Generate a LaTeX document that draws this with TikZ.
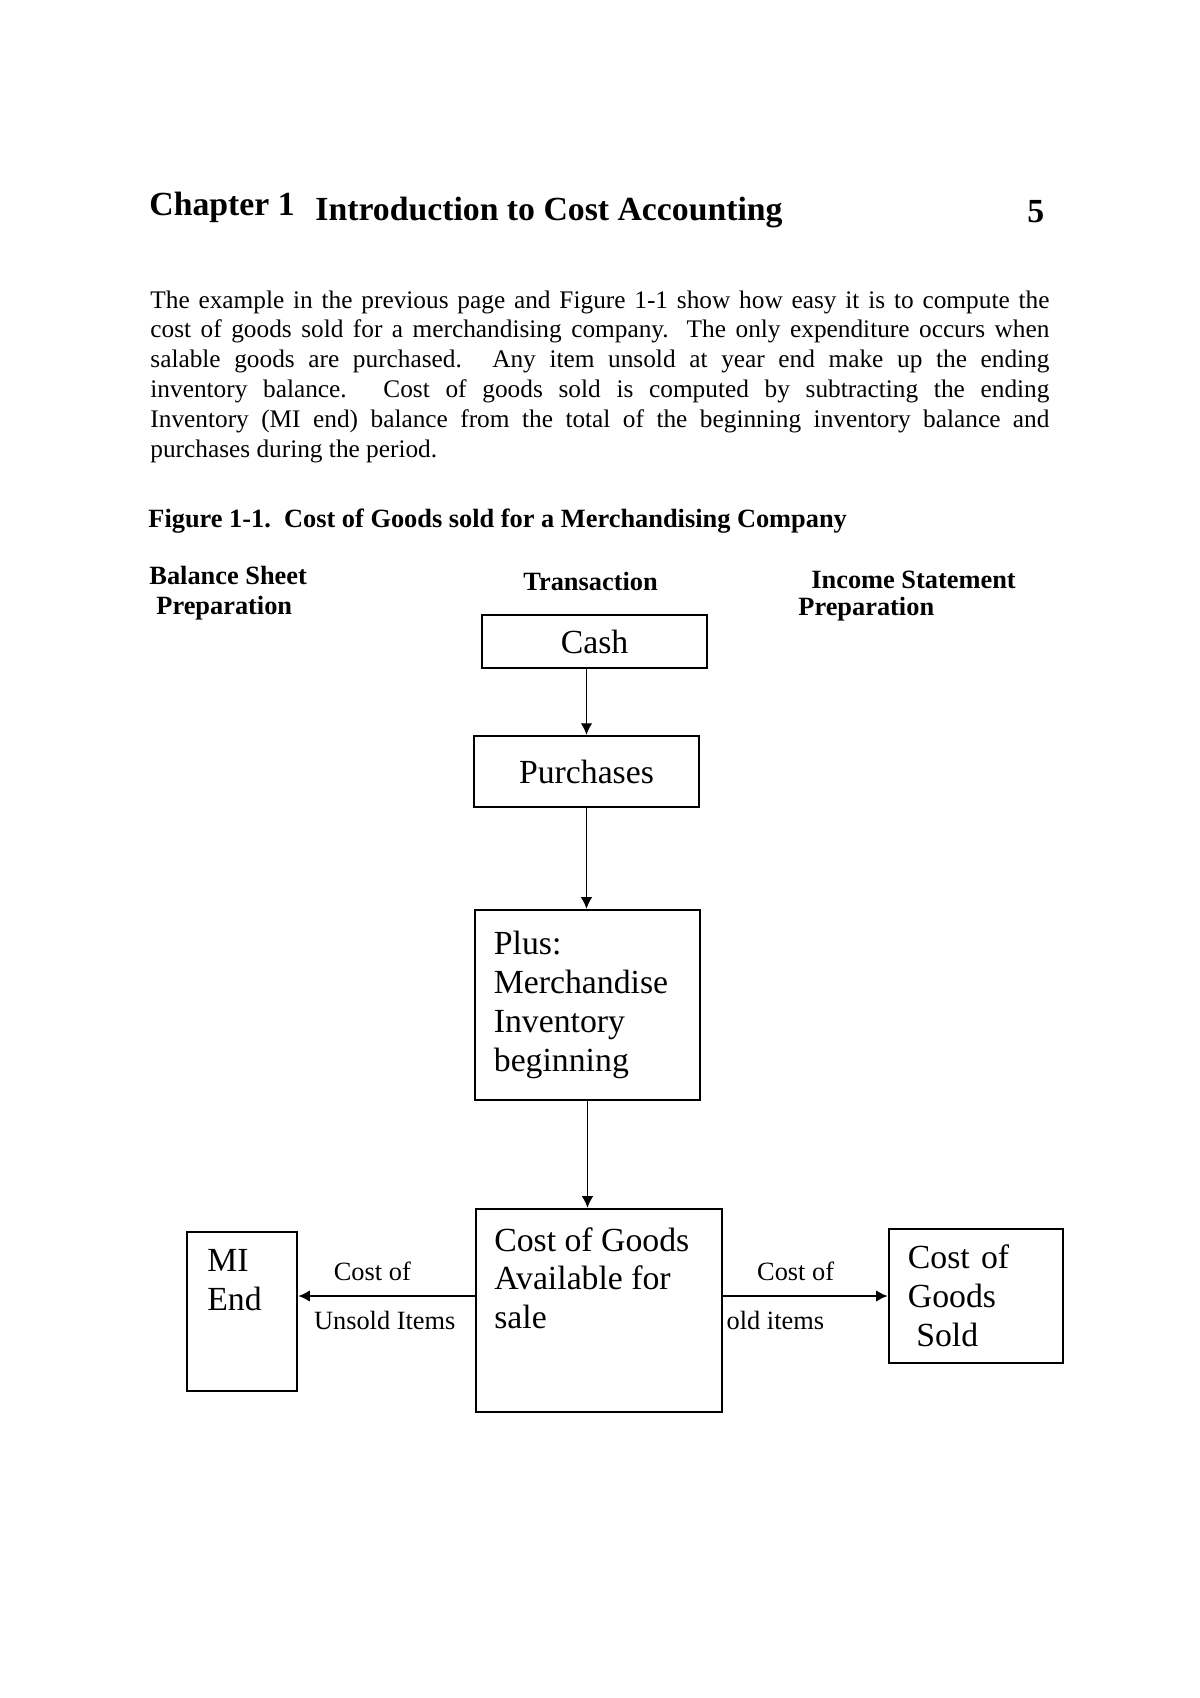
\documentclass[tikz,border=0pt]{standalone}
\usepackage{fontspec}
\setmainfont{Liberation Serif}
\usetikzlibrary{arrows.meta}

\begin{document}
\begin{tikzpicture}[x=0.0166667cm, y=-0.0166667cm,
    box/.style={draw, line width=1.1pt, inner sep=0pt, font=\fontsize{16}{18.4}\selectfont},
    boxtext/.style={inner sep=0pt, align=left, font=\fontsize{16}{18.4}\selectfont},
    flow/.style={line width=.7pt, -{Latex[length=5.5pt,width=5.5pt]}},
    edgetext/.style={inner sep=1pt, font=\fontsize{12.5}{15}\selectfont},
    head/.style={inner sep=0pt, anchor=base west, font=\fontsize{12.5}{15}\selectfont\bfseries}]
    \useasboundingbox[fill=white] (0,0) rectangle (1200,1698);

    % page heading and text
    \node[head, font=\fontsize{16}{19}\selectfont\bfseries] (chap) at (149,215) {Chapter 1};
    \node[head, font=\fontsize{16}{19}\selectfont\bfseries] (title) at (315,220) {Introduction to Cost Accounting};
    \node[head, font=\fontsize{16}{19}\selectfont\bfseries] (pageno) at (1027,222) {5};
    \node[anchor=base west, inner sep=0pt, text width=14.98cm, align=justify,
        font=\fontsize{12}{14.17}\selectfont] (intro) at (150,308)
        {The example in the previous page and Figure 1-1 show how easy it is to compute the\linebreak
        cost of goods sold for a merchandising company.  The only expenditure occurs when\linebreak
        salable goods are purchased.  Any item unsold at year end make up the ending\linebreak
        inventory balance.  Cost of goods sold is computed by subtracting the ending\linebreak
        Inventory (MI end) balance from the total of the beginning inventory balance and\linebreak
        purchases during the period.};
    \node[head] (fig) at (148,527) {Figure 1-1.\ \ Cost of Goods sold for a Merchandising Company};

    \node[head] (bal) at (149,584) {Balance Sheet};
    \node[head] (balprep) at (156,614) {Preparation};
    \node[head] (trans) at (523,590) {Transaction};
    \node[head] (inc) at (811,588) {Income Statement};
    \node[head] (incprep) at (798,615) {Preparation};

    % boxes
    \node[box, minimum width=3.75cm, minimum height=0.883cm] (cash) at (594.5,641.5) {Cash};
    \node[box, minimum width=3.75cm, minimum height=1.183cm] (purch) at (586.5,771.5) {Purchases};
    \node[box, minimum width=3.75cm, minimum height=3.167cm, text width=3.12cm, align=left] (plus) at (587.5,1005)
        {Plus:\\Merchandise\\Inventory\\beginning};
    \node[box, minimum width=4.1cm, minimum height=3.383cm] (cogas) at (599,1310.5) {};
    \node[boxtext, anchor=north west] (cogastext) at ([shift={(0.317cm,-0.317cm)}]cogas.north west)
        {Cost of Goods\\Available for\\sale};
    \node[box, minimum width=1.833cm, minimum height=2.65cm] (miend) at (242,1311.5) {};
    \node[boxtext, anchor=north west] (miendtext) at ([shift={(0.35cm,-0.3cm)}]miend.north west) {MI\\End};
    \node[box, minimum width=2.9cm, minimum height=2.233cm, text width=2.27cm, align=left] (cogs) at (976,1296)
        {Cost of\\Goods\\\hspace*{4pt}Sold};

    % arrows
    \draw[flow] (purch.north |- cash.south) -- (purch.north);
    \draw[flow] (purch.south) -- (purch.south |- plus.north);
    \draw[flow] (plus.south) -- (plus.south |- cogas.north);
    \draw[flow, line width=1.3pt] (cogs.west -| cogas.west) --
        node[edgetext, pos=.58, above=5.5pt] (unsoldtop) {Cost of}
        node[edgetext, pos=.51, below=5.4pt] (unsoldbot) {Unsold Items} (cogs.west -| miend.east);
    \draw[flow, line width=1.3pt] (cogs.west -| cogas.east) --
        node[edgetext, pos=.44, above=5.5pt] (soldtop) {Cost of}
        node[edgetext, pos=0, anchor=north west, yshift=-5.4pt] (soldbot) {old items} (cogs.west);
\end{tikzpicture}
\end{document}
